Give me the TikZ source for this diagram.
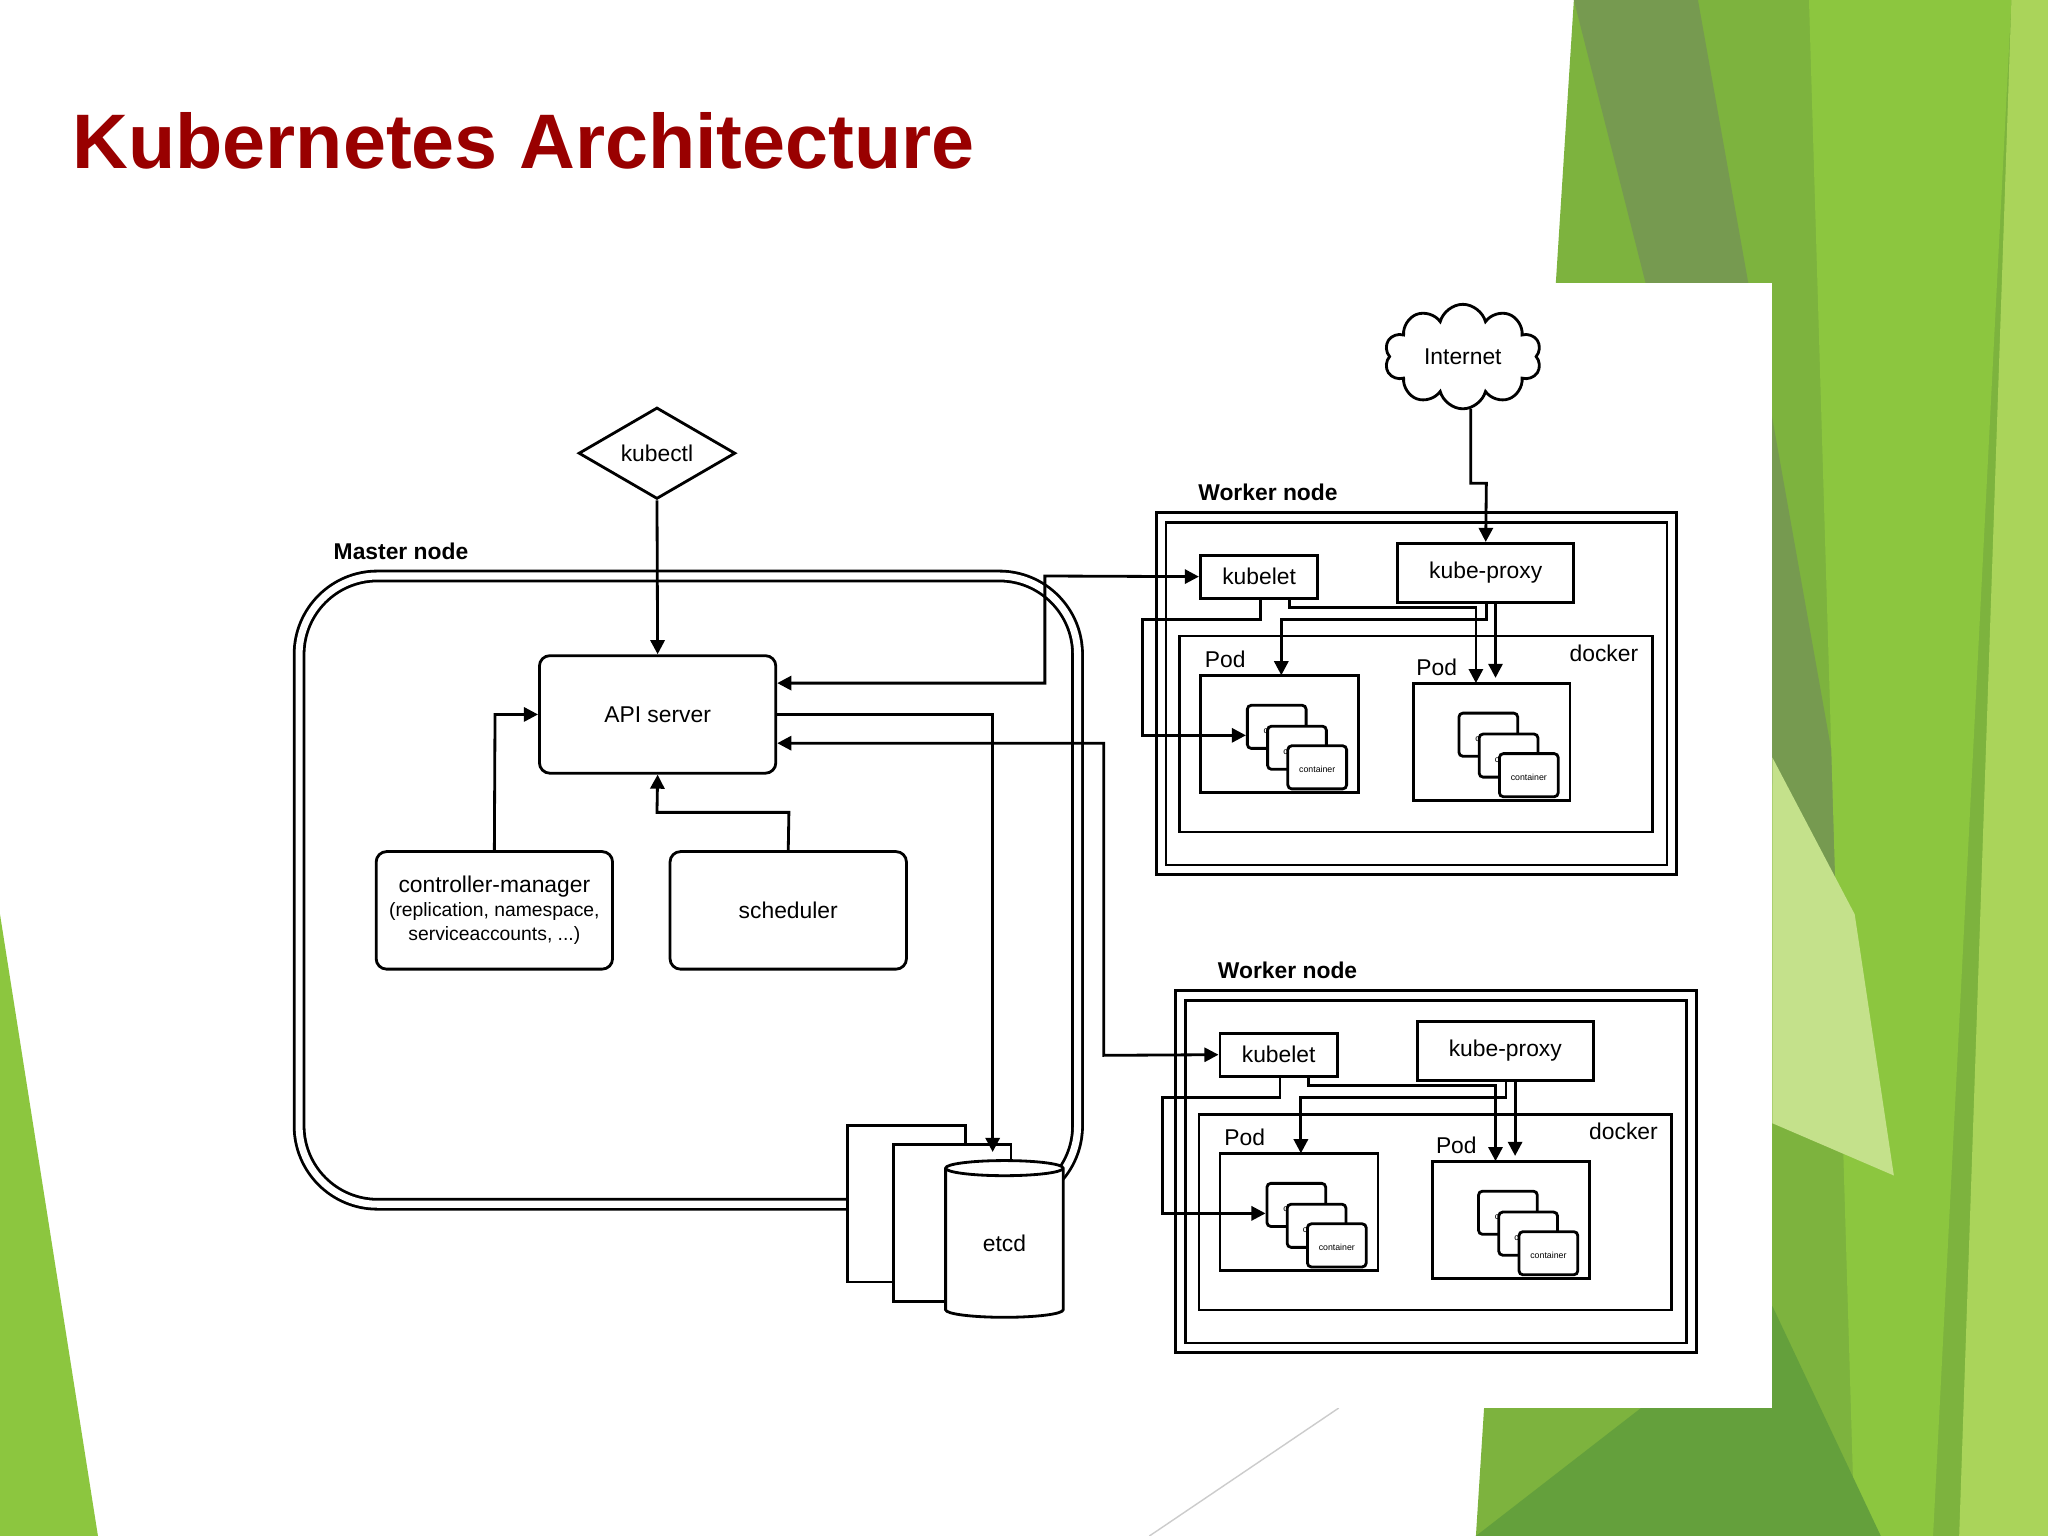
\documentclass[tikz,border=0pt]{standalone}
\usepackage{fontspec}
\setmainfont{Liberation Sans}
\usetikzlibrary{shapes.geometric,shapes.symbols,arrows.meta}
\definecolor{titlered}{RGB}{153,0,0}
\definecolor{gA}{RGB}{118,154,80}
\definecolor{gB}{RGB}{125,179,62}
\definecolor{gC}{RGB}{140,198,63}
\definecolor{gD}{RGB}{170,212,90}
\definecolor{gE}{RGB}{100,160,60}
\def\u{0.01306cm}
\tikzset{
  txt/.style={font=\fontsize{6.5}{7.8}\selectfont},
  box/.style={draw,thick,fill=white,txt,inner sep=0pt},
  rbox/.style={box,rounded corners=8*\u},
  cont/.style={draw,thick,fill=white,rounded corners=3*\u,minimum width=45*\u,minimum height=33*\u,inner sep=0pt},
  tiny/.style={font=\fontsize{2.5}{3}\selectfont},
  arr/.style={thick,-{Triangle[length=4pt,width=4pt]}},
  both/.style={thick,{Triangle[length=4pt,width=4pt]}-{Triangle[length=4pt,width=4pt]}},
  lbl/.style={txt,font=\fontsize{6.5}{7.8}\selectfont\bfseries,anchor=west}
}
\begin{document}
\begin{tikzpicture}[x=0.01306cm,y=-0.01306cm]
\useasboundingbox (0,0) rectangle (1568,1176);
% slide background
\fill[white] (0,0) rectangle (1568,1176);
\fill[gB] (1205,0) -- (1568,0) -- (1568,1176) -- (1130,1176) -- cycle;
\fill[gA] (1205,0) -- (1300,0) -- (1460,900) -- (1357,600) -- cycle;
\fill[gC] (1385,0) -- (1540,0) -- (1480,1176) -- (1420,1176) -- cycle;
\fill[gD] (1540,0) -- (1568,0) -- (1568,1176) -- (1500,1176) -- cycle;
\fill[gD!70!white] (1357,580) -- (1420,700) -- (1450,900) -- (1357,860) -- cycle;
\fill[gE] (1130,1176) -- (1357,1000) -- (1440,1176) -- cycle;
\fill[gC] (0,700) -- (75,1176) -- (0,1176) -- cycle;
\draw[gray!40] (880,1176) -- (1025,1078);
\node[anchor=west,text=titlered,font=\fontsize{22}{26}\selectfont\bfseries] (title) at (46,108) {Kubernetes Architecture};
% diagram panel
\fill[white] (70,217) rectangle (1357,1078);

% master node
\node[lbl] (mlbl) at (246,422) {Master node};
\draw[thick,double,double distance=2pt,rounded corners=60*\u] (229,441) rectangle (825,922);
\node[draw,thick,shape=diamond,fill=white,txt,minimum width=120*\u,minimum height=70*\u,inner sep=0pt] (kubectl) at (503,347) {kubectl};
\node[rbox,minimum width=181*\u,minimum height=90*\u] (api) at (503.5,547) {API server};
\node[rbox,minimum width=181*\u,minimum height=90*\u,align=center] (cm) at (378.5,697)
  {controller-manager\\[-1pt]{\fontsize{5.5}{7}\selectfont(replication, namespace,}\\[-1pt]{\fontsize{5.5}{7}\selectfont serviceaccounts, ...)}};
\node[rbox,minimum width=181*\u,minimum height=90*\u] (sched) at (603.5,697) {scheduler};
% etcd
\tikzset{cyl/.style={draw,thick,fill=white,shape=cylinder,shape border rotate=90,aspect=0.35,minimum width=90*\u,minimum height=120*\u,inner sep=0pt,txt}}
\node[cyl] (e1) at (694,922) {};
\node[cyl] (e2) at (729,937) {};
\node[cyl] (etcd) at (769,952) {etcd};

% internet
\node[draw,thick,shape=cloud,cloud puffs=10,aspect=1.6,fill=white,txt,minimum width=120*\u,minimum height=80*\u,inner sep=0pt] (inet) at (1120,273) {Internet};

% worker nodes
\foreach \s/\n in {0/a,1/b}{
\begin{scope}[shift={(15*\s,366*\s)}]
  \node[lbl] (wl\n) at (908,377) {Worker node};
  \draw[thick,double,double distance=2pt] (889,396) rectangle (1280,666);
  \node[box,minimum width=90*\u,minimum height=33*\u] (kl\n) at (964,441.5) {kubelet};
  \node[box,minimum width=135*\u,minimum height=45*\u] (kp\n) at (1137.5,438.5) {kube-proxy};
  \draw[thick] (903,487) rectangle (1265,637);
  \node[txt] (dk\n) at (1228,500) {docker};
  \node[draw,thick,minimum width=121*\u,minimum height=90*\u,inner sep=0pt] (pa\n) at (979.5,562) {};
  \node[draw,thick,minimum width=120*\u,minimum height=90*\u,inner sep=0pt] (pb\n) at (1142,568) {};
  \node[txt] (pal\n) at (938,505) {Pod};
  \node[txt] (pbl\n) at (1100,511) {Pod};
  \foreach \dx/\dy/\m in {0/0/a,162/6/b}{
    \node[cont] (c1\m\n) at (977.5+\dx,556.5+\dy) {};
    \node[tiny,anchor=west] at (958+\dx,560+\dy) {co};
    \node[cont] (c2\m\n) at (993+\dx,572.5+\dy) {};
    \node[tiny,anchor=west] at (973+\dx,576+\dy) {co};
    \node[cont] (c3\m\n) at (1008.5+\dx,587.5+\dy) {};
    \node[tiny] at (1008.5+\dx,589+\dy) {container};
  }
  \draw[arr] (987,458) -- (987,465) -- (1130,465) -- (1130,523);
  \draw[arr] (1138,461) -- (1138,474) -- (981,474) -- (981,517);
  \draw[arr] (1145,461) -- (1145,519);
  \draw[arr] (965,458) -- (965,474) -- (875,474) -- (875,563) -- (c1a\n.west |- 0,563);
\end{scope}
}
\draw[arr] (1126,313) -- (1126,370) -- (1138,370) -- (kpa.north);

% master connections
\draw[arr] (kubectl.south) -- (api.north);
\draw[arr] (cm.north) -- (379,547) -- (api.west);
\draw[arr] (sched.north) -- (604,622) -- (503,622) -- (api.south);
\draw[both] (api.east |- 0,523) -- (800,523) -- (800,441) -- (kla.west);
\draw[arr] (api.east) -- (760,547) -- (760,882);
\draw[both] (api.east |- 0,569) -- (845,569) -- (845,808) -- (klb.west);
\end{tikzpicture}
\end{document}
